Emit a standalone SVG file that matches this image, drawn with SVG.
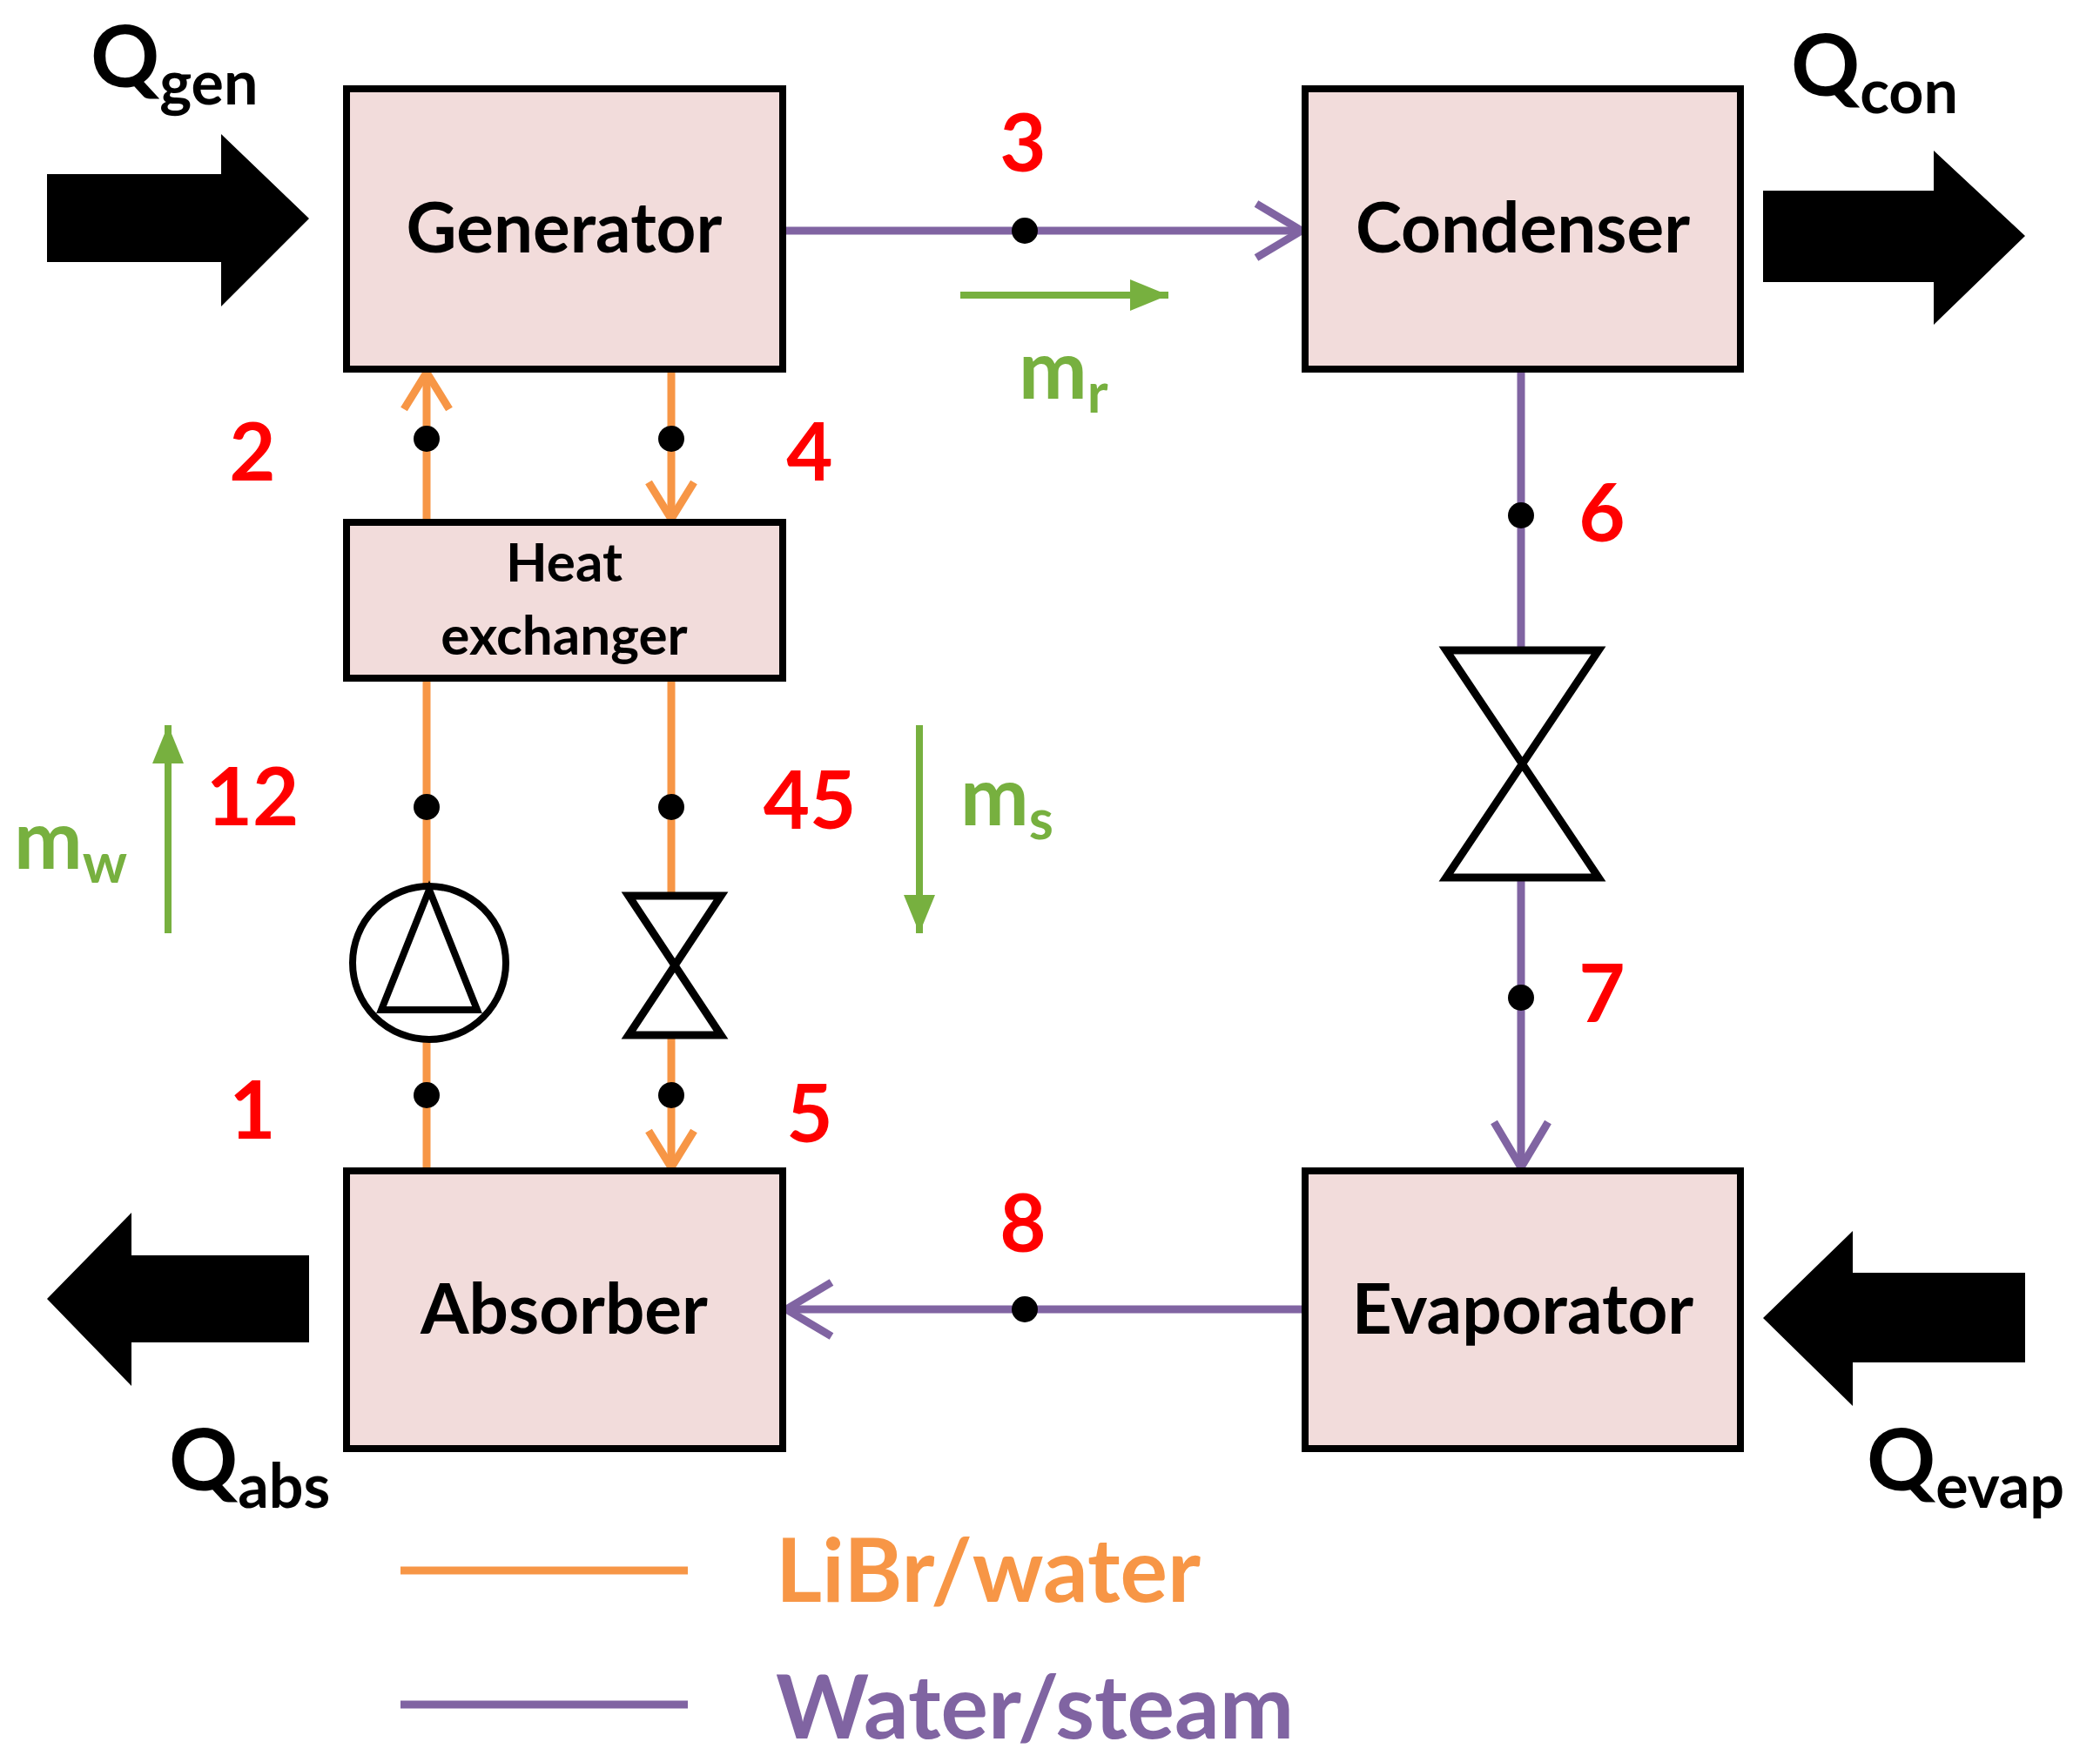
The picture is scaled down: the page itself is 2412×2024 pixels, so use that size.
<svg xmlns="http://www.w3.org/2000/svg" width="2412" height="2024" viewBox="0 0 2412 2024">
<style>
.box{fill:#F2DCDB;stroke:#000;stroke-width:8}
.t{font-family:Lato,"Open Sans",sans-serif;font-weight:bold;fill:#000}
.n{font-family:Lato,"Open Sans",sans-serif;font-weight:bold;fill:#FF0000;font-size:92px;text-anchor:middle}
.g{font-family:Lato,"Open Sans",sans-serif;font-weight:bold;fill:#77B03F}
.or{stroke:#F79646;stroke-width:9;fill:none}
.pu{stroke:#8064A2;stroke-width:9;fill:none}
.gr{stroke:#77B03F;stroke-width:8;fill:none}
.blk{fill:#000}
</style>
<defs>
<marker id="ao" viewBox="0 0 50 60" refX="46" refY="30" markerWidth="50" markerHeight="60" markerUnits="userSpaceOnUse" orient="auto"><path d="M4,4 L46,30 L4,56" fill="none" stroke="#F79646" stroke-width="9"/></marker>
<marker id="ap" viewBox="0 0 60 70" refX="56" refY="35" markerWidth="60" markerHeight="70" markerUnits="userSpaceOnUse" orient="auto"><path d="M4,4 L56,35 L4,66" fill="none" stroke="#8064A2" stroke-width="9"/></marker>
<marker id="ag" viewBox="0 0 44 40" refX="44" refY="20" markerWidth="44" markerHeight="40" markerUnits="userSpaceOnUse" orient="auto"><path d="M0,2 L44,20 L0,38 Z" fill="#77B03F"/></marker>
</defs>
<rect width="2412" height="2024" fill="#fff"/>
<g id="connectors">
<line class="pu" x1="899" y1="265" x2="1495" y2="265" marker-end="url(#ap)"/>
<line class="pu" x1="1747" y1="424" x2="1747" y2="745"/>
<line class="pu" x1="1747" y1="1010" x2="1747" y2="1341" marker-end="url(#ap)"/>
<line class="pu" x1="1499" y1="1504" x2="903" y2="1504" marker-end="url(#ap)"/>
<line class="or" x1="490" y1="600" x2="490" y2="428" marker-end="url(#ao)"/>
<line class="or" x1="771" y1="424" x2="771" y2="596" marker-end="url(#ao)"/>
<line class="or" x1="490" y1="779" x2="490" y2="1016"/>
<line class="or" x1="490" y1="1196" x2="490" y2="1345"/>
<line class="or" x1="771" y1="779" x2="771" y2="1026"/>
<line class="or" x1="771" y1="1192" x2="771" y2="1341" marker-end="url(#ao)"/>
<g class="blk">
<circle cx="1177" cy="265" r="15"/><circle cx="1747" cy="592" r="15"/><circle cx="1747" cy="1146" r="15"/><circle cx="1177" cy="1504" r="15"/>
<circle cx="490" cy="504" r="15"/><circle cx="771" cy="504" r="15"/><circle cx="490" cy="927" r="15"/><circle cx="771" cy="927" r="15"/><circle cx="490" cy="1258" r="15"/><circle cx="771" cy="1258" r="15"/>
</g>
<line class="gr" x1="1103" y1="339" x2="1342" y2="339" marker-end="url(#ag)"/>
<line class="gr" x1="193" y1="1072" x2="193" y2="833" marker-end="url(#ag)"/>
<line class="gr" x1="1056" y1="833" x2="1056" y2="1072" marker-end="url(#ag)"/>
</g>
<g id="generator"><rect class="box" x="398" y="102" width="501" height="322"/><text class="t" x="648" y="290" font-size="80" text-anchor="middle">Generator</text></g>
<g id="condenser"><rect class="box" x="1499" y="102" width="500" height="322"/><text class="t" x="1749" y="290" font-size="80" text-anchor="middle">Condenser</text></g>
<g id="absorber"><rect class="box" x="398" y="1345" width="501" height="319"/><text class="t" x="648" y="1532" font-size="80" text-anchor="middle">Absorber</text></g>
<g id="evaporator"><rect class="box" x="1499" y="1345" width="500" height="319"/><text class="t" x="1749" y="1532" font-size="80" text-anchor="middle">Evaporator</text></g>
<g id="heat-exchanger"><rect class="box" x="398" y="600" width="501" height="179"/><text class="t" x="648" y="668" font-size="62" text-anchor="middle">Heat</text><text class="t" x="648" y="752" font-size="62" text-anchor="middle">exchanger</text></g>
<g id="pump"><circle cx="493" cy="1106" r="88" fill="#fff" stroke="#000" stroke-width="8"/><path d="M493,1022 L438,1160 L548,1160 Z" fill="none" stroke="#000" stroke-width="8"/></g>
<g id="valve-small"><path d="M722,1029 L828,1029 L722,1189 L828,1189 Z" fill="none" stroke="#000" stroke-width="9"/></g>
<g id="valve-big"><path d="M1661,747 L1836,747 L1661,1008 L1836,1008 Z" fill="none" stroke="#000" stroke-width="9"/></g>
<g id="heat-arrows" class="blk">
<path d="M54,200 H254 V154 L355,251 L254,352 V301 H54 Z"/>
<path d="M2025,219 H2221 V173 L2326,271 L2221,373 V324 H2025 Z"/>
<path d="M355,1442 H151 V1393 L54,1492 L151,1592 V1542 H355 Z"/>
<path d="M2326,1462 H2128 V1414 L2025,1514 L2128,1615 V1565 H2326 Z"/>
</g>
<g id="labels">
<text class="t" x="104" y="100" font-size="98">Q<tspan font-size="70" dy="20">gen</tspan></text>
<text class="t" x="2057" y="110" font-size="98">Q<tspan font-size="70" dy="20">con</tspan></text>
<text class="t" x="194" y="1712" font-size="98">Q<tspan font-size="70" dy="20">abs</tspan></text>
<text class="t" x="2144" y="1712" font-size="98">Q<tspan font-size="70" dy="20">evap</tspan></text>
<text class="n" x="1175" y="197">3</text>
<text class="n" x="1840" y="622">6</text>
<text class="n" x="1840" y="1174">7</text>
<text class="n" x="1175" y="1438">8</text>
<text class="n" x="290" y="552">2</text>
<text class="n" x="930" y="552">4</text>
<text class="n" x="290" y="948">12</text>
<text class="n" x="930" y="952">45</text>
<text class="n" x="290" y="1308">1</text>
<text class="n" x="930" y="1312">5</text>
<text class="g" x="1170" y="458" font-size="94">m<tspan font-size="64" dy="16">r</tspan></text>
<text class="g" x="16" y="998" font-size="94">m<tspan font-size="64" dy="16">w</tspan></text>
<text class="g" x="1103" y="948" font-size="94">m<tspan font-size="64" dy="16">s</tspan></text>
</g>
<g id="legend">
<line class="or" x1="460" y1="1804" x2="790" y2="1804" stroke-width="11"/>
<text x="891" y="1840" font-family="Lato,'Open Sans',sans-serif" font-weight="bold" font-size="102" fill="#F79646">LiBr/water</text>
<line class="pu" x1="460" y1="1958" x2="790" y2="1958" stroke-width="11"/>
<text x="891" y="1997" font-family="Lato,'Open Sans',sans-serif" font-weight="bold" font-size="102" fill="#8064A2">Water/steam</text>
</g>
</svg>
